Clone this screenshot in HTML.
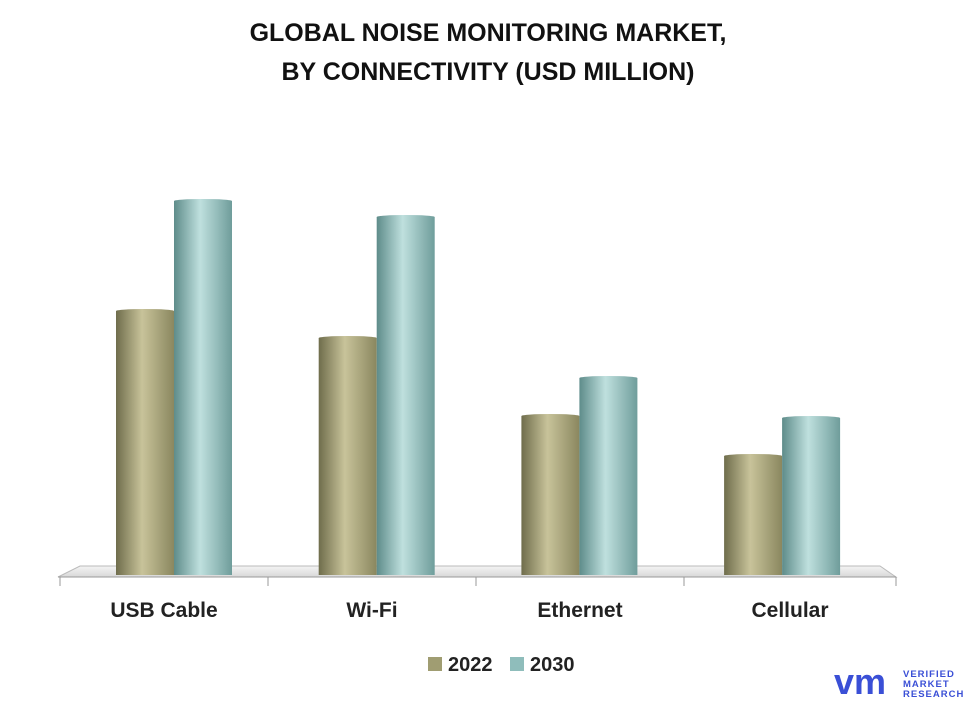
<!DOCTYPE html>
<html><head><meta charset="utf-8"><style>
body{margin:0;background:#fff;width:976px;height:707px;overflow:hidden;font-family:"Liberation Sans",sans-serif}
</style></head><body>
<svg width="976" height="707" viewBox="0 0 976 707">
<defs>
<linearGradient id="g22" x1="0" x2="1"><stop offset="0" stop-color="#6f6d4c"/><stop offset="0.45" stop-color="#c8c39a"/><stop offset="1" stop-color="#8a875f"/></linearGradient>
<linearGradient id="g30" x1="0" x2="1"><stop offset="0" stop-color="#5e8c8a"/><stop offset="0.45" stop-color="#bfe0de"/><stop offset="1" stop-color="#6f9d9b"/></linearGradient>
<linearGradient id="fl" x1="0" y1="0" x2="0" y2="1"><stop offset="0" stop-color="#f4f4f4"/><stop offset="1" stop-color="#d8d8d8"/></linearGradient>
</defs>
<text x="488" y="41" text-anchor="middle" font-size="25" font-weight="bold" fill="#111">GLOBAL NOISE MONITORING MARKET,</text>
<text x="488" y="80" text-anchor="middle" font-size="25" font-weight="bold" fill="#111">BY CONNECTIVITY (USD MILLION)</text>
<polygon points="80,566 880,566 896,577 58,577" fill="url(#fl)" stroke="#bbb"/>
<line x1="58" y1="577" x2="896" y2="577" stroke="#999"/>
<g id="bars"></g>
<g id="ticks"></g>
<g>
<rect x="428" y="657" width="14" height="14" fill="#a09d72"/>
<text x="448" y="671" font-size="20" font-weight="bold" fill="#222">2022</text>
<rect x="510" y="657" width="14" height="14" fill="#8fbdbb"/>
<text x="530" y="671" font-size="20" font-weight="bold" fill="#222">2030</text>
</g>
<g>
<text x="834" y="694" font-size="36" font-weight="bold" fill="#3a4fd6">vm</text>
<text x="903" y="677" font-size="9.5" font-weight="bold" fill="#3a4fd6" letter-spacing="1">VERIFIED</text>
<text x="903" y="687" font-size="9.5" font-weight="bold" fill="#3a4fd6" letter-spacing="1">MARKET</text>
<text x="903" y="697" font-size="9.5" font-weight="bold" fill="#3a4fd6" letter-spacing="1">RESEARCH</text>
</g>
</svg>
<script>
const categories=["USB Cable","Wi-Fi","Ethernet","Cellular"];
const values2022=[264,237,159,119];
const values2030=[374,358,197,157];
const tickX=[60,268,476,684,896];
const NS="http://www.w3.org/2000/svg";
const base=575, bw=58;
function xc(i){return 174+i*202.7;}
function yv(v){return base-v;}
const g=document.getElementById('bars');
function bar(x,v,fill,name){
 const y=yv(v);
 const r=document.createElementNS(NS,'rect');
 r.setAttribute('x',x);r.setAttribute('y',y);r.setAttribute('width',bw);r.setAttribute('height',base-y);r.setAttribute('fill',fill);
 
 
 g.appendChild(r);
 const e=document.createElementNS(NS,'ellipse');
 e.setAttribute('cx',x+bw/2);e.setAttribute('cy',y);e.setAttribute('rx',bw/2);e.setAttribute('ry',2);e.setAttribute('fill',fill);
 
 
 g.appendChild(e);
}
categories.forEach((c,i)=>{
 bar(xc(i)-bw,values2022[i],'url(#g22)','bar-2022-'+i);
 bar(xc(i),values2030[i],'url(#g30)','bar-2030-'+i);
 const t=document.createElementNS(NS,'text');
 t.setAttribute('x',(tickX[i]+tickX[i+1])/2);t.setAttribute('y',617);t.setAttribute('text-anchor','middle');
 t.setAttribute('font-size','21');t.setAttribute('font-weight','bold');t.setAttribute('fill','#222');
 t.textContent=c;
 
 
 g.appendChild(t);
});
const tg=document.getElementById('ticks');
tickX.forEach(x=>{
 const l=document.createElementNS(NS,'line');
 l.setAttribute('x1',x);l.setAttribute('x2',x);l.setAttribute('y1',577);l.setAttribute('y2',586);l.setAttribute('stroke','#999');
 
 
 tg.appendChild(l);
});
</script>
</body></html>
